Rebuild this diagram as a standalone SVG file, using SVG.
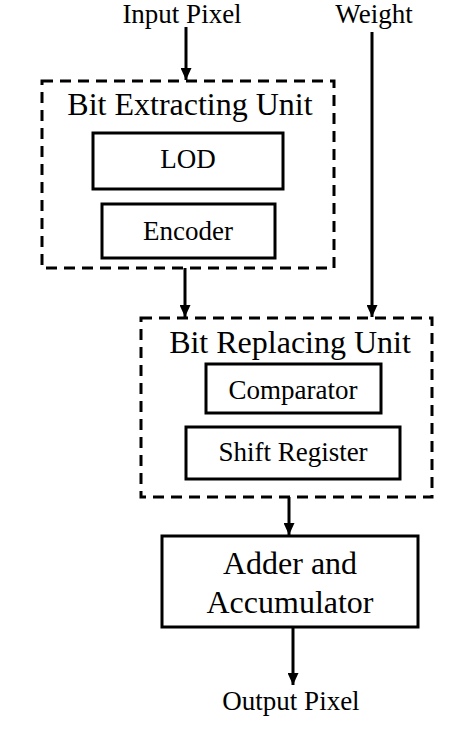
<svg xmlns="http://www.w3.org/2000/svg" width="474" height="729" viewBox="0 0 474 729">
<defs>
<marker id="ah" viewBox="0 0 12 11" refX="12" refY="5.5" markerWidth="12" markerHeight="11" markerUnits="userSpaceOnUse" orient="auto">
<path d="M0,0 L12,5.5 L0,11 Z" fill="#000"/>
</marker>
<style>
text{font-family:"Liberation Serif","Times New Roman",serif;fill:#000;text-anchor:middle}
.s{font-size:27px}
.t{font-size:32px}
.box{fill:#fff;stroke:#000;stroke-width:3}
.dash{fill:none;stroke:#000;stroke-width:3;stroke-dasharray:11 7}
.c{fill:none;stroke:#000;stroke-width:3}
</style>
</defs>
<rect width="474" height="729" fill="#fff"/>
<g id="labels">
<text class="s" x="182" y="23">Input Pixel</text>
<text class="s" x="374" y="23">Weight</text>
<text class="s" x="291" y="710">Output Pixel</text>
</g>
<g id="connectors">
<path class="c" d="M186,27 V80" marker-end="url(#ah)"/>
<path class="c" d="M372,32 V317" marker-end="url(#ah)"/>
<path class="c" d="M185,268 V317" marker-end="url(#ah)"/>
<path class="c" d="M289,497 V535" marker-end="url(#ah)"/>
<path class="c" d="M293,627 V685" marker-end="url(#ah)"/>
</g>
<g id="bit-extracting-unit">
<rect class="dash" x="42" y="81" width="292" height="187"/>
<text class="t" x="190" y="115">Bit Extracting Unit</text>
</g>
<g id="lod">
<rect class="box" x="93" y="133" width="190" height="56"/>
<text class="s" x="188" y="168">LOD</text>
</g>
<g id="encoder">
<rect class="box" x="102" y="204" width="173" height="54"/>
<text class="s" x="188" y="240">Encoder</text>
</g>
<g id="bit-replacing-unit">
<rect class="dash" x="141" y="318" width="291" height="179"/>
<text class="t" x="290" y="353">Bit Replacing Unit</text>
</g>
<g id="comparator">
<rect class="box" x="206" y="364" width="175" height="49"/>
<text class="s" x="293" y="399">Comparator</text>
</g>
<g id="shift-register">
<rect class="box" x="186" y="427" width="214" height="52"/>
<text class="s" x="293" y="461">Shift Register</text>
</g>
<g id="adder-accumulator">
<rect class="box" x="162" y="536" width="256" height="91"/>
<text class="t" x="290" y="574">Adder and</text>
<text class="t" x="290" y="613">Accumulator</text>
</g>
</svg>
